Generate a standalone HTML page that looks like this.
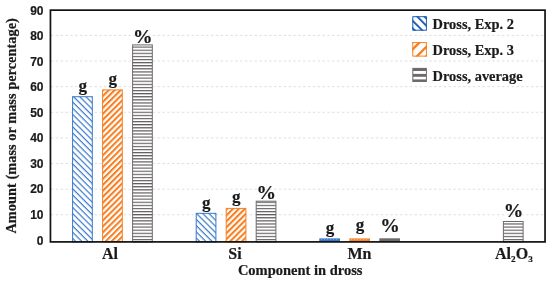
<!DOCTYPE html>
<html><head><meta charset="utf-8"><style>
html,body{margin:0;padding:0;background:#fff;}
svg{display:block;}
text{stroke:#1a1a1a;stroke-width:0.2px;}
.tk{font-family:"Liberation Sans", Arial, sans-serif;font-weight:bold;font-size:12px;fill:#1a1a1a;}
.cat{font-family:"Liberation Serif", "Times New Roman", serif;font-weight:bold;font-size:16px;fill:#1a1a1a;}
.ttl{font-family:"Liberation Serif", "Times New Roman", serif;font-weight:bold;font-size:14.3px;fill:#1a1a1a;}
.lg{font-family:"Liberation Serif", "Times New Roman", serif;font-weight:bold;font-size:14.4px;fill:#1a1a1a;}
.bl{font-family:"Liberation Serif", "Times New Roman", serif;font-weight:bold;font-size:17px;fill:#1a1a1a;}
.pc{font-family:"Liberation Serif", "Times New Roman", serif;font-weight:bold;font-size:19.5px;fill:#1a1a1a;}
</style></head><body>
<svg width="550" height="283" viewBox="0 0 550 283">
<defs>
<clipPath id="cb"><rect x="412.3" y="16.2" width="14.60" height="14.5"/></clipPath><clipPath id="co"><rect x="412.3" y="42.1" width="14.60" height="14.5"/></clipPath>
<pattern id="pb" patternUnits="userSpaceOnUse" width="4.384" height="4.384" y="2.6" patternTransform="rotate(45)">
 <rect width="4.384" height="4.384" fill="#fff"/><rect x="0" y="0" width="4.384" height="1.2" fill="#3878cc"/></pattern>
<pattern id="po" patternUnits="userSpaceOnUse" width="4.19" height="4.19" y="1.37" patternTransform="rotate(-45)">
 <rect width="4.19" height="4.19" fill="#fff"/><rect x="0" y="0" width="4.19" height="2.05" fill="#f77f22"/></pattern>
<pattern id="pg" patternUnits="userSpaceOnUse" width="10" height="3.103" y="0">
 <rect width="10" height="3.103" fill="#fff"/><rect x="0" y="0" width="10" height="1.15" fill="#5f5a5a"/></pattern>
</defs>
<rect width="550" height="283" fill="#fff"/>
<line x1="50.9" y1="214.78" x2="544.05" y2="214.78" stroke="#dfdfdf" stroke-width="1" stroke-dasharray="2.4 2.45"/>
<line x1="50.9" y1="189.15" x2="544.05" y2="189.15" stroke="#dfdfdf" stroke-width="1" stroke-dasharray="2.4 2.45"/>
<line x1="50.9" y1="163.53" x2="544.05" y2="163.53" stroke="#dfdfdf" stroke-width="1" stroke-dasharray="2.4 2.45"/>
<line x1="50.9" y1="137.90" x2="544.05" y2="137.90" stroke="#dfdfdf" stroke-width="1" stroke-dasharray="2.4 2.45"/>
<line x1="50.9" y1="112.28" x2="544.05" y2="112.28" stroke="#dfdfdf" stroke-width="1" stroke-dasharray="2.4 2.45"/>
<line x1="50.9" y1="86.65" x2="544.05" y2="86.65" stroke="#dfdfdf" stroke-width="1" stroke-dasharray="2.4 2.45"/>
<line x1="50.9" y1="61.03" x2="544.05" y2="61.03" stroke="#dfdfdf" stroke-width="1" stroke-dasharray="2.4 2.45"/>
<line x1="50.9" y1="35.40" x2="544.05" y2="35.40" stroke="#dfdfdf" stroke-width="1" stroke-dasharray="2.4 2.45"/>
<rect x="72.60" y="96.70" width="19.70" height="145.20" fill="url(#pb)" stroke="#3878cc" stroke-width="1"/>
<rect x="102.60" y="89.90" width="19.70" height="152.00" fill="url(#po)" stroke="#f77f22" stroke-width="1"/>
<rect x="132.60" y="44.90" width="19.70" height="197.00" fill="url(#pg)" stroke="#6f6a6a" stroke-width="1"/>
<rect x="196.20" y="213.35" width="19.70" height="28.55" fill="url(#pb)" stroke="#3878cc" stroke-width="1"/>
<rect x="226.20" y="208.40" width="19.70" height="33.50" fill="url(#po)" stroke="#f77f22" stroke-width="1"/>
<rect x="256.20" y="201.20" width="19.70" height="40.70" fill="url(#pg)" stroke="#6f6a6a" stroke-width="1"/>
<rect x="319.30" y="238.40" width="20.70" height="3.50" fill="#3270c6"/>
<line x1="320.80" y1="239.70" x2="339.00" y2="239.70" stroke="#fff" stroke-opacity="0.45" stroke-width="0.9" stroke-dasharray="1.5 1.5"/>
<rect x="349.30" y="238.40" width="20.70" height="3.50" fill="#f77f22"/>
<line x1="350.80" y1="239.70" x2="369.00" y2="239.70" stroke="#fff" stroke-opacity="0.45" stroke-width="0.9" stroke-dasharray="1.5 1.5"/>
<rect x="379.30" y="238.30" width="20.70" height="3.60" fill="#6f6a6a"/>
<rect x="503.40" y="221.50" width="19.70" height="20.40" fill="url(#pg)" stroke="#6f6a6a" stroke-width="1"/>
<text x="82.75" y="91.20" text-anchor="middle" class="bl">g</text>
<text x="112.75" y="83.70" text-anchor="middle" class="bl">g</text>
<text x="142.75" y="42.80" text-anchor="middle" class="pc">%</text>
<text x="206.35" y="207.60" text-anchor="middle" class="bl">g</text>
<text x="236.35" y="202.40" text-anchor="middle" class="bl">g</text>
<text x="266.35" y="198.60" text-anchor="middle" class="pc">%</text>
<text x="329.95" y="232.90" text-anchor="middle" class="bl">g</text>
<text x="359.95" y="230.40" text-anchor="middle" class="bl">g</text>
<text x="389.95" y="232.10" text-anchor="middle" class="pc">%</text>
<text x="513.55" y="217.00" text-anchor="middle" class="pc">%</text>
<rect x="50.45" y="10.15" width="494.60" height="231.75" fill="none" stroke="#111" stroke-width="1.7"/>
<text x="43.5" y="244.50" text-anchor="end" class="tk">0</text>
<text x="43.5" y="218.93" text-anchor="end" class="tk">10</text>
<text x="43.5" y="193.36" text-anchor="end" class="tk">20</text>
<text x="43.5" y="167.79" text-anchor="end" class="tk">30</text>
<text x="43.5" y="142.22" text-anchor="end" class="tk">40</text>
<text x="43.5" y="116.65" text-anchor="end" class="tk">50</text>
<text x="43.5" y="91.08" text-anchor="end" class="tk">60</text>
<text x="43.5" y="65.51" text-anchor="end" class="tk">70</text>
<text x="43.5" y="39.94" text-anchor="end" class="tk">80</text>
<text x="43.5" y="14.97" text-anchor="end" class="tk">90</text>
<text x="110" y="258.6" text-anchor="middle" class="cat">Al</text>
<text x="235" y="258.6" text-anchor="middle" class="cat">Si</text>
<text x="359.4" y="258.6" text-anchor="middle" class="cat">Mn</text>
<text x="513.9" y="258.6" text-anchor="middle" class="cat">Al<tspan font-size="9.2" dy="3.3">2</tspan><tspan dy="-3.3" dx="0.3">O</tspan><tspan font-size="9.2" dy="3.3">3</tspan></text>
<text x="300.2" y="275" text-anchor="middle" class="ttl" style="font-size:14.5px">Component in dross</text>
<text transform="translate(16.1,125.85) rotate(-90)" text-anchor="middle" class="ttl" style="font-size:14.42px">Amount (mass or mass percentage)</text>
<g clip-path="url(#cb)">
<rect x="412.3" y="16.2" width="14.60" height="14.5" fill="#fff"/>
<line x1="380.70" y1="-3.80" x2="440.70" y2="56.20" stroke="#1f5fb4" stroke-width="1.9"/>
<line x1="388.10" y1="-3.80" x2="448.10" y2="56.20" stroke="#1f5fb4" stroke-width="1.9"/>
<line x1="396.90" y1="-3.80" x2="456.90" y2="56.20" stroke="#1f5fb4" stroke-width="1.9"/>
<line x1="404.10" y1="-3.80" x2="464.10" y2="56.20" stroke="#1f5fb4" stroke-width="1.9"/>
</g>
<rect x="412.80" y="16.70" width="13.60" height="13.5" fill="none" stroke="#1f5fb4" stroke-width="1"/>
<g clip-path="url(#co)">
<rect x="412.3" y="42.1" width="14.60" height="14.5" fill="#fff"/>
<line x1="432.30" y1="22.10" x2="372.30" y2="82.10" stroke="#f77f22" stroke-width="2.3"/>
<line x1="439.90" y1="22.10" x2="379.90" y2="82.10" stroke="#f77f22" stroke-width="2.3"/>
<line x1="451.10" y1="22.10" x2="391.10" y2="82.10" stroke="#f77f22" stroke-width="2.3"/>
<line x1="460.60" y1="22.10" x2="400.60" y2="82.10" stroke="#f77f22" stroke-width="2.3"/>
</g>
<rect x="412.80" y="42.60" width="13.60" height="13.5" fill="none" stroke="#f77f22" stroke-width="1"/>
<rect x="412.3" y="67.9" width="14.60" height="14.1" fill="#6f6a6a"/>
<rect x="413.30" y="71.0" width="12.60" height="2.9" fill="#fff"/>
<rect x="413.30" y="76.8" width="12.60" height="2.6" fill="#fff"/>
<text x="432.6" y="28.90" class="lg">Dross, Exp. 2</text>
<text x="432.6" y="54.90" class="lg">Dross, Exp. 3</text>
<text x="432.6" y="81.10" class="lg">Dross, average</text>
</svg>
</body></html>
